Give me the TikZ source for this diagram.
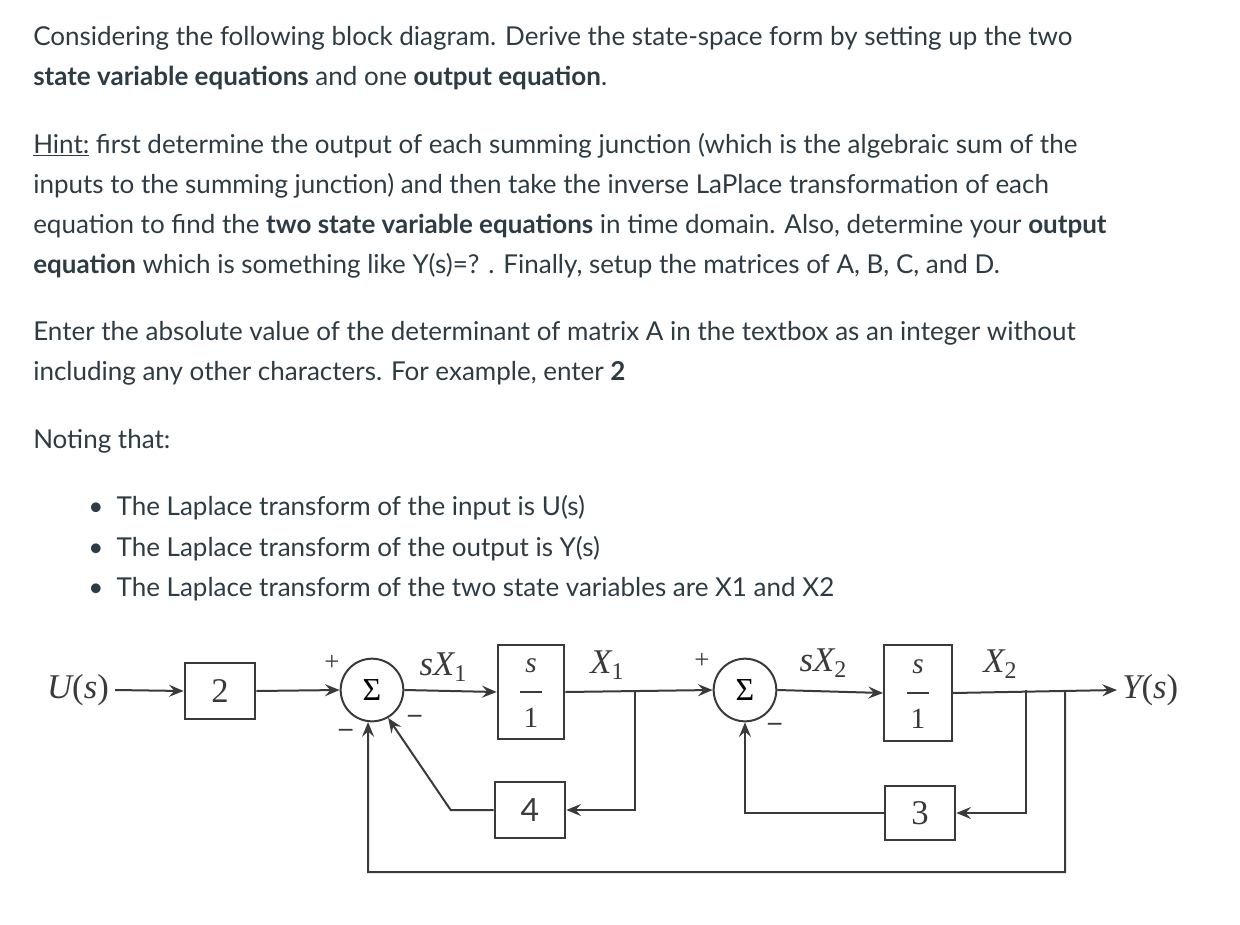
\documentclass[tikz,border=0pt]{standalone}
\usepackage{fontspec}
\setmainfont{Lato}
\newfontfamily\tm{Liberation Serif}
\usetikzlibrary{arrows.meta}
\definecolor{txt}{HTML}{2D3B45}
\definecolor{dg}{HTML}{3A3A3A}
\begin{document}
\begin{tikzpicture}[x=0.75pt,y=-0.75pt,
  para/.style={anchor=base west,inner sep=0,text=txt,font=\fontsize{19.5}{23}\selectfont},
  blk/.style={draw=dg,line width=1.5pt,minimum width=#1},
  sumn/.style={draw=dg,line width=1.5pt,circle,minimum size=47pt,inner sep=0,font=\tm\fontsize{24}{24}\selectfont},
  wire/.style={draw=dg,line width=1.5pt},
  arr/.style={wire,-{Stealth[length=11pt,width=9pt,inset=4pt]}},
  lab/.style={inner sep=0,text=dg,font=\tm\fontsize{26}{26}\selectfont},
  sgn/.style={inner sep=0,text=dg,font=\tm\fontsize{20}{20}\selectfont}]
\useasboundingbox (0,0) rectangle (1240,925);
% text
\node[para] (l1) at (33,45) {Considering the following block diagram. Derive the state-space form by setting up the two};
\node[para] (l2) at (33,85) {\textbf{state variable equations} and one \textbf{output equation}.};
\node[para] (l3) at (33,153) {\underline{Hint:} first determine the output of each summing junction (which is the algebraic sum of the};
\node[para] (l4) at (33,193) {inputs to the summing junction) and then take the inverse LaPlace transformation of each};
\node[para] (l5) at (33,233) {equation to find the \textbf{two state variable equations} in time domain. Also, determine your \textbf{output}};
\node[para] (l6) at (33,273) {\textbf{equation} which is something like Y(s)=? . Finally, setup the matrices of A, B, C, and D.};
\node[para] (l7) at (33,340) {Enter the absolute value of the determinant of matrix A in the textbox as an integer without};
\node[para] (l8) at (33,380) {including any other characters. For example, enter \textbf{2}};
\node[para] (l9) at (33,448) {Noting that:};
\node[para] (b1) at (88,515) {\textbullet\ \ The Laplace transform of the input is U(s)};
\node[para] (b2) at (88,556) {\textbullet\ \ The Laplace transform of the output is Y(s)};
\node[para] (b3) at (88,596) {\textbullet\ \ The Laplace transform of the two state variables are X1 and X2};
% diagram
\node[lab] (U) at (78,690) {\itshape U\upshape(\itshape s\upshape)};
\node[blk=53pt,minimum height=42pt,font=\tm\fontsize{26}{26}\selectfont,text=dg] (g2) at (220,691) {2};
\node[sumn] (s1) at (372,690) {Σ};
\node[blk=50pt,minimum height=71pt] (i1) at (531,692) {};
\node[blk=53pt,minimum height=42pt,font=\fontsize{24}{24}\selectfont,text=dg] (g4) at (530,810) {4};
\node[sumn] (s2) at (745,690) {Σ};
\node[blk=51pt,minimum height=72pt] (i2) at (918,693) {};
\node[blk=53pt,minimum height=41pt,font=\tm\fontsize{26}{26}\selectfont,text=dg] (g3) at (920,813) {3};
\foreach \b in {i1,i2}{
  \node[lab,font=\tm\fontsize{22}{22}\selectfont] at ([yshift=-0.75*26pt]\b.center) {1};
  \draw[wire,line width=1pt] ([xshift=-8pt]\b.center) -- ([xshift=8pt]\b.center);
  \node[lab,font=\tm\itshape\fontsize{22}{22}\selectfont] at ([yshift=0.75*26pt]\b.center) {s};
}
\coordinate (br1) at (635,690);
\coordinate (br2) at (1026,690);
\coordinate (br3) at (1065,690);
\coordinate (yend) at (1117,690);
\node[lab,anchor=west] (Y) at (1122,690) {\itshape Y\upshape(\itshape s\upshape)};
\draw[arr] (U.east) ++(6,0) -- (g2.west);
\draw[arr] (g2.east) -- (s1.west);
\draw[arr] (s1.east) -- (i1.west);
\draw[arr] (i1.east) -- (s2.west);
\draw[arr] (s2.east) -- (i2.west);
\draw[arr] (i2.east) -- (yend);
\draw[arr] (br1) |- (g4.east);
\draw[arr] (g4.west) -- ++(-43,0) -- (s1.-60);
\draw[arr] (br2) |- (g3.east);
\draw[arr] (g3.west) -| (s2.south);
\draw[arr] (br3) |- (368,872) -- (s1.-97);
% labels
\node[sgn] at (332,663) {+};
\node[sgn] at (346,733) {\textbf{–}};
\node[sgn] at (415,719) {\textbf{–}};
\node[sgn] at (702,661) {+};
\node[sgn] at (775,727) {\textbf{–}};
\node[lab] at (443,667) {\itshape sX\upshape\raisebox{-0.35ex}{\fontsize{18}{18}\selectfont 1}};
\node[lab] at (607,665) {\itshape X\upshape\raisebox{-0.35ex}{\fontsize{18}{18}\selectfont 1}};
\node[lab] at (823,663) {\itshape sX\upshape\raisebox{-0.35ex}{\fontsize{18}{18}\selectfont 2}};
\node[lab] at (1000,664) {\itshape X\upshape\raisebox{-0.35ex}{\fontsize{18}{18}\selectfont 2}};
\end{tikzpicture}
\end{document}
